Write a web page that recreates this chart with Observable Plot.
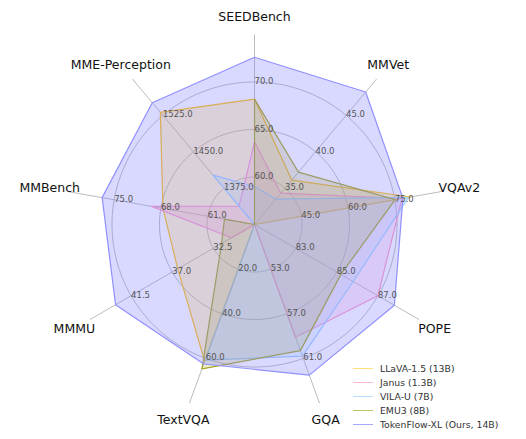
<!DOCTYPE html>
<html>
<head>
<meta charset="utf-8">
<script src="https://cdn.jsdelivr.net/npm/d3@7"></script>
<script src="https://cdn.jsdelivr.net/npm/@observablehq/plot@0.6"></script>
<style>
  html, body { margin: 0; padding: 0; background: #fff; }
  #wrap { position: relative; width: 526px; height: 439px; font-family: "DejaVu Sans", sans-serif; }
  #legend { position: absolute; left: 353px; top: 362px; font-size: 9.3px; color: #333; }
  #legend .row { display: flex; align-items: center; height: 13.8px; }
  #legend .sw { width: 20px; height: 0; border-top: 1.6px solid; margin-right: 7px; }
</style>
</head>
<body>
<div id="wrap"><div id="legend"></div></div>
<script>
const axisNames = ["SEEDBench", "MMVet", "VQAv2", "POPE", "GQA", "TextVQA", "MMMU", "MMBench", "MME-Perception"];
const ring1 = [60, 35, 45, 83, 53, 20, 32.5, 61, 1375];
const ring2 = [65, 40, 60, 85, 57, 40, 37, 68, 1450];
const ring3 = [70, 45, 75, 87, 61, 60, 41.5, 75, 1525];

const llava     = [68.2, 36.1, 80.0, null, null, 61.3, 36.4, 67.7, 1531.3];
const janus     = [63.7, 34.3, 77.3, 87.0, 59.1, null, 30.5, 69.4, 1338.0];
const vilau     = [59.0, 33.5, 79.4, 85.8, 60.8, 60.8, null, null, 1401.8];
const emu3      = [68.2, 37.2, 75.1, 85.2, 60.3, 64.7, 31.6, 58.5, 1243.8];
const tokenflow = [72.6, 48.2, 77.6, 87.8, 62.5, 62.5, 43.2, 76.8, 1551.1];

const seriesNames = ["LLaVA-1.5 (13B)", "Janus (1.3B)", "VILA-U (7B)", "EMU3 (8B)", "TokenFlow-XL (Ours, 14B)"];
const seriesValues = [llava, janus, vilau, emu3, tokenflow];
const lineColors = ["#ffc20e", "#ff99c8", "#9fd0ff", "#a8a828", "#9090ff"];
const legendColors = ["#ffe27a", "#ffb8d8", "#b8dcff", "#bcc56a", "#a6a6ff"];

const n = axisNames.length;
const angle = i => (90 - 360 / n * i) * Math.PI / 180;
function radius(i, v) {
  if (v == null) return 0;
  const step = ring2[i] - ring1[i];
  const zero = ring1[i] - step;
  return Math.max(0, (v - zero) / step * 0.25);
}
const pol = (r, a) => ({x: r * Math.cos(a), y: r * Math.sin(a)});

// polygons
const polys = [];
seriesValues.forEach((vals, s) => {
  vals.forEach((v, i) => polys.push({s, name: seriesNames[s], ...pol(radius(i, v), angle(i))}));
});

// rings
const rings = [];
[1, 2, 3].forEach(k => d3.range(0, 361, 2).forEach(deg => rings.push({k, ...pol(k * 0.25, deg * Math.PI / 180)})));

// spokes
const spokes = axisNames.map((name, i) => ({name, ...pol(1.0, angle(i))}));

// axis labels
const labels = axisNames.map((name, i) => ({name, ...pol(208 / 190, angle(i))}));

// tick labels
const tickLabels = [];
[ring1, ring2, ring3].forEach((ring, k) => ring.forEach((v, i) => tickLabels.push({t: v.toFixed(1), ...pol((k + 1) * 0.25, angle(i))})));

const marks = [
  Plot.line(rings, {x: "x", y: "y", z: "k", stroke: "#b4b4b4", strokeWidth: 0.9}),
  Plot.link(spokes, {x1: 0, y1: 0, x2: "x", y2: "y", stroke: "#b4b4b4", strokeWidth: 0.9})
];
seriesValues.forEach((vals, s) => {
  const d = polys.filter(p => p.s === s);
  marks.push(Plot.line(d, {x: "x", y: "y", curve: "linear-closed", fill: s === 4 ? "#8080ff" : lineColors[s], fillOpacity: s === 4 ? 0.3 : 0.22, stroke: lineColors[s], strokeWidth: 1.2}));
});
marks.push(
  Plot.text(tickLabels, {x: "x", y: "y", text: "t", textAnchor: "start", lineAnchor: "bottom", dy: 2, fontSize: 8.5, fill: "#555"}),
  Plot.text(labels, {x: "x", y: "y", text: "name", fontSize: 12.5, fill: "#111"})
);

const chart = Plot.plot({
  width: 526,
  height: 439,
  margin: 0,
  style: {fontFamily: "DejaVu Sans, sans-serif", background: "transparent"},
  x: {domain: [-254 / 190, 272 / 190], axis: null},
  y: {domain: [-215 / 190, 224 / 190], axis: null},
  marks
});
document.getElementById("wrap").prepend(chart);

const legend = document.getElementById("legend");
seriesNames.forEach((name, s) => {
  const row = document.createElement("div");
  row.className = "row";
  const sw = document.createElement("div");
  sw.className = "sw";
  sw.style.borderTopColor = legendColors[s];
  const tx = document.createElement("span");
  tx.textContent = name;
  row.appendChild(sw);
  row.appendChild(tx);
  legend.appendChild(row);
});
</script>
</body>
</html>
